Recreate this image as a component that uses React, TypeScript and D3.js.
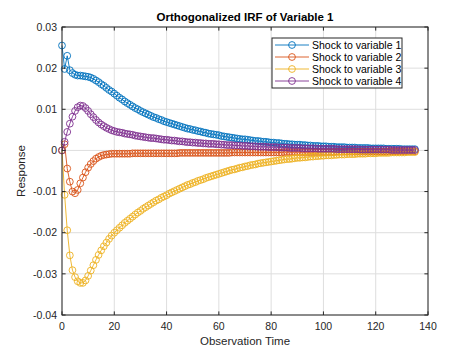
import React from "react";
import * as d3 from "d3";

const title = "Orthogonalized IRF of Variable 1";
const xLabel = "Observation Time";
const yLabel = "Response";
const xTicks = [0, 20, 40, 60, 80, 100, 120, 140];
const yTicks = [0.03, 0.02, 0.01, 0, -0.01, -0.02, -0.03, -0.04];
const seriesNames = ["Shock to variable 1", "Shock to variable 2", "Shock to variable 3", "Shock to variable 4"];
const seriesColors = ["#0072BD", "#D95319", "#EDB120", "#7E2F8E"];

const shock1 = [
  0.0255, 0.0198, 0.0230, 0.0195, 0.0188, 0.0184, 0.0182, 0.0182, 0.0181, 0.0180,
  0.0179, 0.0177, 0.0174, 0.0170, 0.0166, 0.0161, 0.0157, 0.0152, 0.0147, 0.0143,
  0.0138, 0.0133, 0.0128, 0.0124, 0.0119, 0.0115, 0.0111, 0.0107, 0.0103, 0.0100,
  0.0096, 0.0093, 0.0090, 0.0087, 0.0084, 0.0081, 0.0079, 0.0076, 0.0074, 0.0071,
  0.0069, 0.0067, 0.0065, 0.0063, 0.0061, 0.0059, 0.0057, 0.0055, 0.0053, 0.0052,
  0.0050, 0.0049, 0.0047, 0.0046, 0.0044, 0.0043, 0.0041, 0.0040, 0.0039, 0.0038,
  0.0037, 0.0035, 0.0034, 0.0033, 0.0032, 0.0031, 0.0030, 0.0029, 0.0028, 0.0027,
  0.0027, 0.0026, 0.0025, 0.0024, 0.0023, 0.0023, 0.0022, 0.0021, 0.0021, 0.0020,
  0.0019, 0.0019, 0.0018, 0.0018, 0.0017, 0.0016, 0.0016, 0.0015, 0.0015, 0.0014,
  0.0014, 0.0014, 0.0013, 0.0013, 0.0012, 0.0012, 0.0011, 0.0011, 0.0011, 0.0010,
  0.0010, 0.0010, 0.0009, 0.0009, 0.0009, 0.0008, 0.0008, 0.0008, 0.0008, 0.0007,
  0.0007, 0.0007, 0.0007, 0.0006, 0.0006, 0.0006, 0.0006, 0.0006, 0.0005, 0.0005,
  0.0005, 0.0005, 0.0005, 0.0005, 0.0004, 0.0004, 0.0004, 0.0004, 0.0004, 0.0004,
  0.0003, 0.0003, 0.0003, 0.0003, 0.0003, 0.0003,
];

const shock2 = [
  0, 0.0015, -0.0044, -0.0076, -0.0100, -0.0104, -0.0096, -0.0080, -0.0066, -0.0053,
  -0.0042, -0.0033, -0.0026, -0.0020, -0.0016, -0.0013, -0.0011, -0.0010, -0.0009, -0.0008,
  -0.0008, -0.0008, -0.0008, -0.0008, -0.0008, -0.0008, -0.0008, -0.0007, -0.0007, -0.0007,
  -0.0007, -0.0007, -0.0007, -0.0007, -0.0007, -0.0007, -0.0007, -0.0007, -0.0007, -0.0007,
  -0.0007, -0.0007, -0.0007, -0.0007, -0.0007, -0.0006, -0.0006, -0.0006, -0.0006, -0.0006,
  -0.0006, -0.0006, -0.0006, -0.0006, -0.0006, -0.0006, -0.0006, -0.0006, -0.0006, -0.0006,
  -0.0006, -0.0006, -0.0006, -0.0006, -0.0006, -0.0005, -0.0005, -0.0005, -0.0005, -0.0005,
  -0.0005, -0.0005, -0.0005, -0.0005, -0.0005, -0.0005, -0.0005, -0.0005, -0.0005, -0.0005,
  -0.0005, -0.0005, -0.0005, -0.0005, -0.0005, -0.0004, -0.0004, -0.0004, -0.0004, -0.0004,
  -0.0004, -0.0004, -0.0004, -0.0004, -0.0004, -0.0004, -0.0004, -0.0004, -0.0004, -0.0004,
  -0.0004, -0.0004, -0.0004, -0.0004, -0.0004, -0.0003, -0.0003, -0.0003, -0.0003, -0.0003,
  -0.0003, -0.0003, -0.0003, -0.0003, -0.0003, -0.0003, -0.0003, -0.0003, -0.0003, -0.0003,
  -0.0003, -0.0003, -0.0003, -0.0003, -0.0003, -0.0002, -0.0002, -0.0002, -0.0002, -0.0002,
  -0.0002, -0.0002, -0.0002, -0.0002, -0.0002, -0.0002,
];

const shock3 = [
  0, -0.0108, -0.0194, -0.0255, -0.0291, -0.0308, -0.0318, -0.0322, -0.0322, -0.0316,
  -0.0305, -0.0292, -0.0279, -0.0266, -0.0254, -0.0243, -0.0233, -0.0224, -0.0215, -0.0207,
  -0.0200, -0.0194, -0.0188, -0.0182, -0.0176, -0.0171, -0.0166, -0.0161, -0.0156, -0.0151,
  -0.0147, -0.0142, -0.0138, -0.0134, -0.0130, -0.0126, -0.0122, -0.0119, -0.0115, -0.0112,
  -0.0109, -0.0105, -0.0102, -0.0099, -0.0096, -0.0093, -0.0090, -0.0087, -0.0084, -0.0082,
  -0.0079, -0.0077, -0.0074, -0.0072, -0.0070, -0.0067, -0.0065, -0.0063, -0.0061, -0.0059,
  -0.0057, -0.0055, -0.0053, -0.0051, -0.0049, -0.0047, -0.0046, -0.0044, -0.0042, -0.0041,
  -0.0039, -0.0038, -0.0036, -0.0035, -0.0034, -0.0032, -0.0031, -0.0030, -0.0029, -0.0028,
  -0.0027, -0.0026, -0.0025, -0.0024, -0.0023, -0.0022, -0.0021, -0.0021, -0.0020, -0.0019,
  -0.0018, -0.0018, -0.0017, -0.0017, -0.0016, -0.0015, -0.0015, -0.0014, -0.0014, -0.0013,
  -0.0013, -0.0012, -0.0012, -0.0012, -0.0011, -0.0011, -0.0010, -0.0010, -0.0010, -0.0009,
  -0.0009, -0.0009, -0.0009, -0.0008, -0.0008, -0.0008, -0.0008, -0.0007, -0.0007, -0.0007,
  -0.0007, -0.0006, -0.0006, -0.0006, -0.0006, -0.0006, -0.0005, -0.0005, -0.0005, -0.0005,
  -0.0005, -0.0005, -0.0004, -0.0004, -0.0004, -0.0004,
];

const shock4 = [
  0, 0.0021, 0.0045, 0.0065, 0.0082, 0.0096, 0.0105, 0.0109, 0.0108, 0.0103,
  0.0096, 0.0088, 0.0081, 0.0074, 0.0068, 0.0063, 0.0059, 0.0055, 0.0052, 0.0049,
  0.0047, 0.0045, 0.0044, 0.0043, 0.0041, 0.0040, 0.0039, 0.0038, 0.0036, 0.0035,
  0.0034, 0.0033, 0.0032, 0.0031, 0.0030, 0.0030, 0.0029, 0.0028, 0.0027, 0.0026,
  0.0026, 0.0025, 0.0024, 0.0024, 0.0023, 0.0022, 0.0022, 0.0021, 0.0020, 0.0020,
  0.0019, 0.0019, 0.0018, 0.0018, 0.0017, 0.0017, 0.0016, 0.0016, 0.0016, 0.0015,
  0.0015, 0.0014, 0.0014, 0.0013, 0.0013, 0.0013, 0.0012, 0.0012, 0.0012, 0.0011,
  0.0011, 0.0011, 0.0010, 0.0010, 0.0010, 0.0009, 0.0009, 0.0009, 0.0009, 0.0008,
  0.0008, 0.0008, 0.0008, 0.0007, 0.0007, 0.0007, 0.0007, 0.0006, 0.0006, 0.0006,
  0.0006, 0.0006, 0.0005, 0.0005, 0.0005, 0.0005, 0.0005, 0.0005, 0.0004, 0.0004,
  0.0004, 0.0004, 0.0004, 0.0004, 0.0004, 0.0003, 0.0003, 0.0003, 0.0003, 0.0003,
  0.0003, 0.0003, 0.0003, 0.0003, 0.0002, 0.0002, 0.0002, 0.0002, 0.0002, 0.0002,
  0.0002, 0.0002, 0.0002, 0.0002, 0.0002, 0.0002, 0.0001, 0.0001, 0.0001, 0.0001,
  0.0001, 0.0001, 0.0001, 0.0001, 0.0001, 0.0001,
];

const allSeries = [shock1, shock2, shock3, shock4];

const W = 474;
const H = 355;
const M = { left: 62, right: 428, top: 27, bottom: 315 };
const FONT = "Arial, 'Liberation Sans', Helvetica, sans-serif";
const AX = "#262626";

export default function App() {
  const x = d3.scaleLinear().domain([0, 140]).range([M.left, M.right]);
  const y = d3.scaleLinear().domain([-0.04, 0.03]).range([M.bottom, M.top]);
  const line = d3
    .line<number>()
    .x((_, i) => x(i))
    .y((d) => y(d));
  const fmt = (v: number) => (v === 0 ? "0" : d3.format(".2f")(v).replace("−", "-"));
  const tickLen = 3.6;
  const legX = 272, legY = 38, legW = 130, legH = 50, rowH = 12;

  return (
    <div style={{ position: "fixed", left: 0, top: 0 }}>
      <svg width={W} height={H} style={{ display: "block", background: "#fff" }} fontFamily={FONT}>
        <rect x={0} y={0} width={W} height={H} fill="#ffffff" />
        {xTicks.map((t) => (
          <line key={"gx" + t} x1={x(t)} x2={x(t)} y1={M.top} y2={M.bottom} stroke="#dedede" strokeWidth={1} />
        ))}
        {yTicks.map((t) => (
          <line key={"gy" + t} x1={M.left} x2={M.right} y1={y(t)} y2={y(t)} stroke="#dedede" strokeWidth={1} />
        ))}
        {allSeries.map((s, si) => (
          <g key={"s" + si}>
            <path d={line(s) || ""} fill="none" stroke={seriesColors[si]} strokeWidth={0.9} />
            {s.map((v, i) => (
              <circle key={i} cx={x(i)} cy={y(v)} r={3.4} fill="none" stroke={seriesColors[si]} strokeWidth={0.9} />
            ))}
          </g>
        ))}
        <rect x={M.left} y={M.top} width={M.right - M.left} height={M.bottom - M.top} fill="none" stroke={AX} strokeWidth={1} />
        {xTicks.map((t) => (
          <g key={"tx" + t}>
            <line x1={x(t)} x2={x(t)} y1={M.bottom} y2={M.bottom - tickLen} stroke={AX} />
            <line x1={x(t)} x2={x(t)} y1={M.top} y2={M.top + tickLen} stroke={AX} />
            <text x={x(t)} y={330} textAnchor="middle" fontSize={10.5} fill={AX}>{t}</text>
          </g>
        ))}
        {yTicks.map((t) => (
          <g key={"ty" + t}>
            <line x1={M.left} x2={M.left + tickLen} y1={y(t)} y2={y(t)} stroke={AX} />
            <line x1={M.right} x2={M.right - tickLen} y1={y(t)} y2={y(t)} stroke={AX} />
            <text x={57} y={y(t)} dy="0.35em" textAnchor="end" fontSize={10.5} fill={AX}>{fmt(t)}</text>
          </g>
        ))}
        <text x={(M.left + M.right) / 2} y={21} textAnchor="middle" fontSize={11.5} fontWeight="bold" fill="#000">{title}</text>
        <text x={(M.left + M.right) / 2} y={345} textAnchor="middle" fontSize={11.5} fill={AX}>{xLabel}</text>
        <text transform={`translate(25,${(M.top + M.bottom) / 2}) rotate(-90)`} textAnchor="middle" fontSize={11.5} fill={AX}>{yLabel}</text>
        <rect x={legX} y={legY} width={legW} height={legH} fill="#fff" stroke={AX} strokeWidth={1} />
        {seriesNames.map((n, i) => {
          const cy = legY + 7 + i * rowH;
          return (
            <g key={"l" + i}>
              <line x1={legX + 3} x2={legX + 37} y1={cy} y2={cy} stroke={seriesColors[i]} strokeWidth={0.9} />
              <circle cx={legX + 20} cy={cy} r={3.4} fill="none" stroke={seriesColors[i]} strokeWidth={0.9} />
              <text x={legX + 40} y={cy} dy="0.35em" fontSize={10.5} fill="#000">{n}</text>
            </g>
          );
        })}
      </svg>
    </div>
  );
}
